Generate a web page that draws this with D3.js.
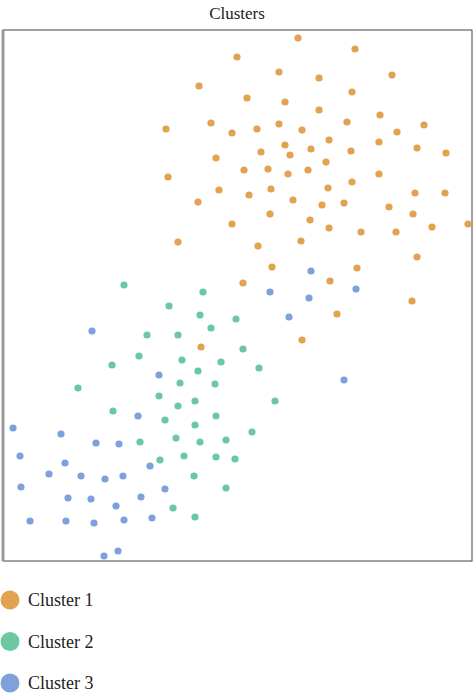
<!DOCTYPE html>
<html>
<head>
<meta charset="utf-8">
<script src="https://cdn.jsdelivr.net/npm/d3@7"></script>
<style>
  body { margin: 0; background: #fff; }
  text { font-family: "Liberation Serif", "DejaVu Serif", serif; fill: #222; }
</style>
</head>
<body>
<div id="chart"></div>
<script>
// cluster coordinates (x to the right, y downward)
var cluster1 = [
  [298,38],[355,49],[237,57],[279,72],[319,78],[392,75],[199,86],[352,92],[247,98],[285,102],
  [319,110],[380,115],[166,129],[211,123],[232,133],[257,129],[279,124],[302,130],[347,122],[397,132],
  [424,125],[329,140],[285,145],[311,149],[351,151],[379,142],[417,148],[446,153],[216,158],[261,152],
  [290,155],[326,162],[168,177],[244,170],[268,169],[288,174],[308,170],[352,182],[379,174],[219,190],
  [249,195],[271,189],[328,188],[415,193],[445,193],[198,202],[293,200],[322,205],[344,203],[389,207],
  [413,214],[270,214],[310,220],[232,224],[329,228],[361,232],[396,232],[432,227],[468,224],[178,242],
  [258,246],[301,241],[417,257],[272,267],[357,268],[330,281],[243,283],[412,301],[337,314],[302,340],
  [201,347]
];
var cluster2 = [
  [124,285],[203,292],[169,306],[200,315],[236,319],[211,328],[147,335],[178,335],[243,349],[139,356],
  [182,360],[112,365],[221,362],[198,371],[259,368],[180,383],[215,384],[78,388],[159,396],[195,401],
  [178,406],[275,401],[113,411],[165,420],[216,416],[195,425],[252,432],[140,442],[176,438],[200,442],
  [226,440],[184,456],[160,460],[216,457],[235,459],[194,476],[226,488],[173,508],[195,517]
];
var cluster3 = [
  [311,271],[270,292],[309,298],[356,289],[289,317],[344,380],[92,331],[159,375],[138,416],[13,428],
  [61,434],[96,443],[119,444],[20,456],[65,463],[49,474],[81,476],[105,479],[123,476],[150,466],
  [21,487],[68,498],[91,499],[141,497],[165,489],[116,506],[30,521],[66,521],[94,523],[124,520],
  [152,518],[104,556],[118,551]
];
var clusterNames = ["Cluster 1", "Cluster 2", "Cluster 3"];
var clusterColors = ["#e2a24f", "#6cc8a2", "#7ea1dc"];

var width = 474, height = 697;
var svg = d3.select("#chart").append("svg")
  .attr("width", width).attr("height", height);

// plot box
var box = {left: 3, top: 30, right: 472, bottom: 561};
var x = d3.scaleLinear().domain([3, 472]).range([box.left, box.right]);
var y = d3.scaleLinear().domain([30, 561]).range([box.top, box.bottom]);

svg.append("text")
  .attr("x", width / 2).attr("y", 19)
  .attr("text-anchor", "middle")
  .style("font-size", "17px")
  .text("Clusters");

svg.append("rect")
  .attr("x", box.left).attr("y", box.top)
  .attr("width", box.right - box.left).attr("height", box.bottom - box.top)
  .attr("fill", "none").attr("stroke", "#444").attr("stroke-width", 1);
svg.append("line")
  .attr("x1", box.left).attr("x2", box.left)
  .attr("y1", box.top).attr("y2", box.bottom)
  .attr("stroke", "#999").attr("stroke-width", 3);

var all = [cluster1, cluster2, cluster3];
all.forEach(function(pts, i) {
  svg.append("g").selectAll("circle")
    .data(pts)
    .enter().append("circle")
      .attr("cx", function(d) { return x(d[0]); })
      .attr("cy", function(d) { return y(d[1]); })
      .attr("r", 3.6)
      .attr("fill", clusterColors[i]);
});

// legend
var legend = svg.append("g").selectAll("g")
  .data(clusterNames)
  .enter().append("g")
    .attr("transform", function(d, i) { return "translate(10," + (600 + i * 41.5) + ")"; });
legend.append("circle").attr("r", 9.5)
  .attr("fill", function(d, i) { return clusterColors[i]; });
legend.append("text")
  .attr("x", 18).attr("dy", "0.35em")
  .style("font-size", "18px")
  .text(function(d) { return d; });
</script>
</body>
</html>
